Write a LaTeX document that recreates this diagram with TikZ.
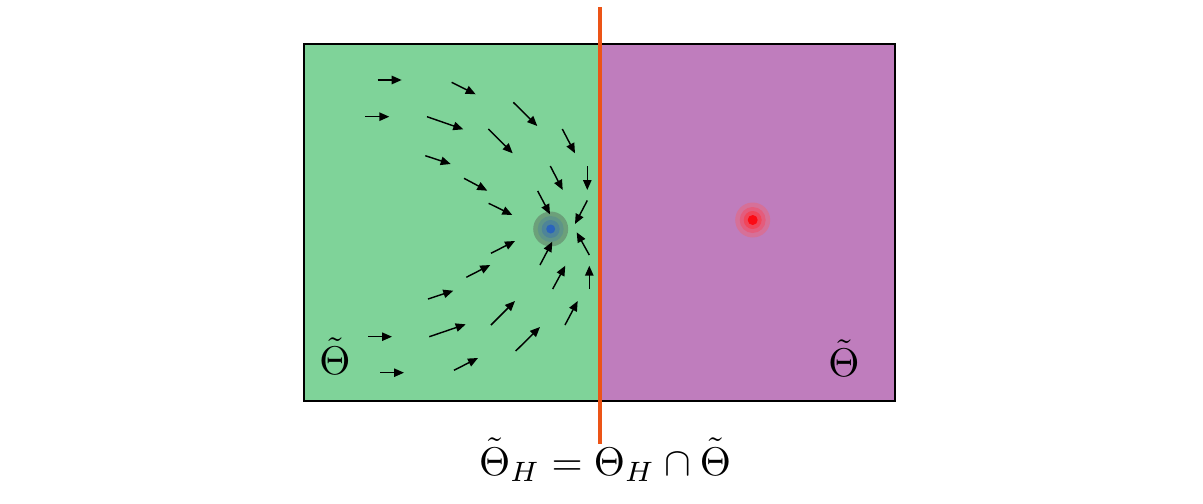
\documentclass[tikz,border=0pt]{standalone}
\usetikzlibrary{arrows.meta}
\definecolor{greenregion}{RGB}{127,211,153}
\definecolor{purpleregion}{RGB}{191,125,189}
\definecolor{splitline}{RGB}{236,84,22}
\definecolor{bluering1}{RGB}{108,160,122}
\definecolor{bluering2}{RGB}{94,148,136}
\definecolor{bluering3}{RGB}{78,132,152}
\definecolor{bluecore}{RGB}{42,100,188}
\definecolor{redring1}{RGB}{214,112,152}
\definecolor{redring2}{RGB}{228,92,124}
\definecolor{redring3}{RGB}{240,70,90}
\definecolor{redcore}{RGB}{252,10,20}
\tikzset{
  flow/.style={line width=0.36pt, -{Triangle[length=2.5pt,width=2.1pt]}},
  labeltext/.style={font=\fontsize{10.4pt}{12pt}\selectfont, inner sep=0pt},
}
\begin{document}
\begin{tikzpicture}[x=0.25pt,y=-0.25pt]
\useasboundingbox (0,0) rectangle (1203,504);
% regions
\fill[greenregion] (304,44) rectangle (600,401);
\fill[purpleregion] (600,44) rectangle (895,401);
\draw[line width=0.5pt] (304,44) rectangle (895,401);
% blue attractor
\fill[bluering1] (550.7,229) circle (17.5);
\fill[bluering2] (550.7,229) circle (13);
\fill[bluering3] (550.7,229) circle (9);
\fill[bluecore] (550.7,229) circle (4.5);
% red point
\fill[redring1] (752.7,220) circle (17.5);
\fill[redring2] (752.7,220) circle (13);
\fill[redring3] (752.7,220) circle (9);
\fill[redcore] (752.7,220) circle (5);
% vector field
\draw[flow] (377.7,80) -- (401.7,80);
\draw[flow] (451.7,82.3) -- (475.7,94.3);
\draw[flow] (513.3,102.3) -- (537.3,126);
\draw[flow] (365.3,116.7) -- (389.3,116.7);
\draw[flow] (427,116.7) -- (463.3,129.3);
\draw[flow] (488.3,129) -- (512.7,153.3);
\draw[flow] (562.3,129) -- (575,153.3);
\draw[flow] (425.3,155.7) -- (450.7,164);
\draw[flow] (550.3,166) -- (562.7,190);
\draw[flow] (587.3,166) -- (587.3,190);
\draw[flow] (464,178.3) -- (487.3,190.7);
\draw[flow] (537.7,191) -- (550,214.3);
\draw[flow] (587.3,200.5) -- (575,224);
\draw[flow] (488.7,203.3) -- (512.3,215);
\draw[flow] (589.3,255) -- (576.7,232.3);
\draw[flow] (540,265) -- (552.3,241.7);
\draw[flow] (491,253.3) -- (515,241);
\draw[flow] (466.3,277.3) -- (490.3,265);
\draw[flow] (552.7,289) -- (565.3,265.7);
\draw[flow] (589.3,289) -- (589.3,265.7);
\draw[flow] (428,299) -- (453.3,290.7);
\draw[flow] (491,325) -- (515,301);
\draw[flow] (565,325) -- (577.7,301);
\draw[flow] (368,336.7) -- (392,336.7);
\draw[flow] (429.3,336.7) -- (465.7,324.3);
\draw[flow] (515.7,351) -- (540,327);
\draw[flow] (380,372.7) -- (404,372.7);
\draw[flow] (454,370.3) -- (478,358);
% split line
\coordinate (splittop) at (599.7,7);
\coordinate (splitbot) at (599.7,444);
\draw[splitline, line width=1pt] (splittop) -- (splitbot);
% labels
\node[labeltext] (leftlabel) at (335,356) {$\tilde{\Theta}$};
\node[labeltext] (rightlabel) at (844,358) {$\tilde{\Theta}$};
\node[labeltext, anchor=base] (formula) at (605,475) {$\tilde{\Theta}_H = \Theta_H \cap \tilde{\Theta}$};
\end{tikzpicture}
\end{document}
